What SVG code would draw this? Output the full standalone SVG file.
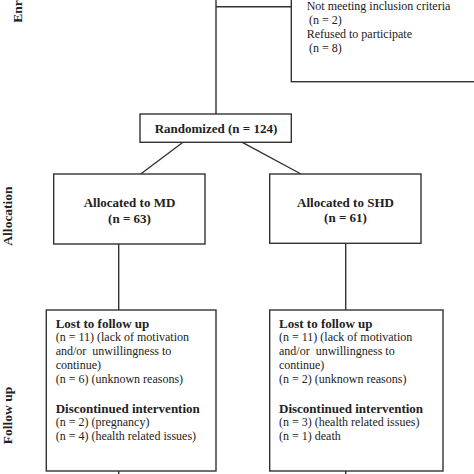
<svg xmlns="http://www.w3.org/2000/svg" width="474" height="474" viewBox="0 0 474 474">
<style>
.box{fill:#fff;stroke:#333;stroke-width:1.4}
.ln{fill:none;stroke:#333;stroke-width:1.4}
.t{font-family:"Liberation Serif","Times New Roman",serif;font-size:12px;fill:#222}
.b{font-family:"Liberation Serif","Times New Roman",serif;font-size:13px;font-weight:bold;fill:#222}
.side{font-family:"Liberation Serif","Times New Roman",serif;font-size:13.5px;font-weight:bold;fill:#222}
</style>
<rect width="474" height="474" fill="#fff"/>
<g id="connectors">
<line class="ln" x1="216" y1="0" x2="216" y2="114"/>
<line class="ln" x1="216" y1="6.7" x2="291.3" y2="6.7"/>
<line class="ln" x1="183" y1="142.3" x2="140.7" y2="174"/>
<line class="ln" x1="242.3" y1="142.3" x2="301" y2="174"/>
<line class="ln" x1="118.7" y1="244" x2="118.7" y2="310"/>
<line class="ln" x1="345.7" y1="243.3" x2="345.7" y2="310"/>
<line class="ln" x1="118.7" y1="471" x2="118.7" y2="474"/>
<line class="ln" x1="345.7" y1="471" x2="345.7" y2="474"/>
</g>
<g id="labels">
<text class="side" transform="translate(21.5,22.7) rotate(-90)">Enr</text>
<text class="side" text-anchor="middle" transform="translate(11.5,216) rotate(-90)">Allocation</text>
<text class="side" text-anchor="middle" transform="translate(11.5,415.5) rotate(-90)">Follow up</text>
</g>
<g id="excluded">
<rect class="box" x="291.3" y="-10" width="200" height="91.7"/>
<text class="t" x="306.7" y="10">Not meeting inclusion criteria</text>
<text class="t" x="309" y="24">(n = 2)</text>
<text class="t" x="306.7" y="37.7">Refused to participate</text>
<text class="t" x="309" y="51.5">(n = 8)</text>
</g>
<g id="randomized">
<rect class="box" x="140" y="114" width="151.3" height="28.3"/>
<text class="b" x="216" y="132.5" text-anchor="middle">Randomized (n = 124)</text>
</g>
<g id="alloc-md">
<rect class="box" x="53.7" y="174" width="151.3" height="70"/>
<text class="b" x="129.5" y="207" text-anchor="middle">Allocated to MD</text>
<text class="b" x="129.5" y="222.5" text-anchor="middle">(n = 63)</text>
</g>
<g id="alloc-shd">
<rect class="box" x="269.7" y="174" width="151.3" height="69.3"/>
<text class="b" x="345.5" y="206.5" text-anchor="middle">Allocated to SHD</text>
<text class="b" x="345.5" y="222" text-anchor="middle">(n = 61)</text>
</g>
<g id="followup-md">
<rect class="box" x="46.3" y="310" width="169.7" height="161"/>
<text class="b" x="55.7" y="327.8">Lost to follow up</text>
<text class="t" x="55.7" y="341.2">(n = 11) (lack of motivation</text>
<text class="t" x="55.7" y="355.2" xml:space="preserve">and/or  unwillingness to</text>
<text class="t" x="55.7" y="369.2">continue)</text>
<text class="t" x="55.7" y="383.2">(n = 6) (unknown reasons)</text>
<text class="b" x="55.7" y="412.8">Discontinued intervention</text>
<text class="t" x="55.7" y="426.2">(n = 2) (pregnancy)</text>
<text class="t" x="55.7" y="440.2">(n = 4) (health related issues)</text>
</g>
<g id="followup-shd">
<rect class="box" x="269.7" y="310" width="173.3" height="161"/>
<text class="b" x="279" y="327.8">Lost to follow up</text>
<text class="t" x="279" y="341.2">(n = 11) (lack of motivation</text>
<text class="t" x="279" y="355.2" xml:space="preserve">and/or  unwillingness to</text>
<text class="t" x="279" y="369.2">continue)</text>
<text class="t" x="279" y="383.2">(n = 2) (unknown reasons)</text>
<text class="b" x="279" y="412.8">Discontinued intervention</text>
<text class="t" x="279" y="426.2">(n = 3) (health related issues)</text>
<text class="t" x="279" y="440.2">(n = 1) death</text>
</g>
</svg>
